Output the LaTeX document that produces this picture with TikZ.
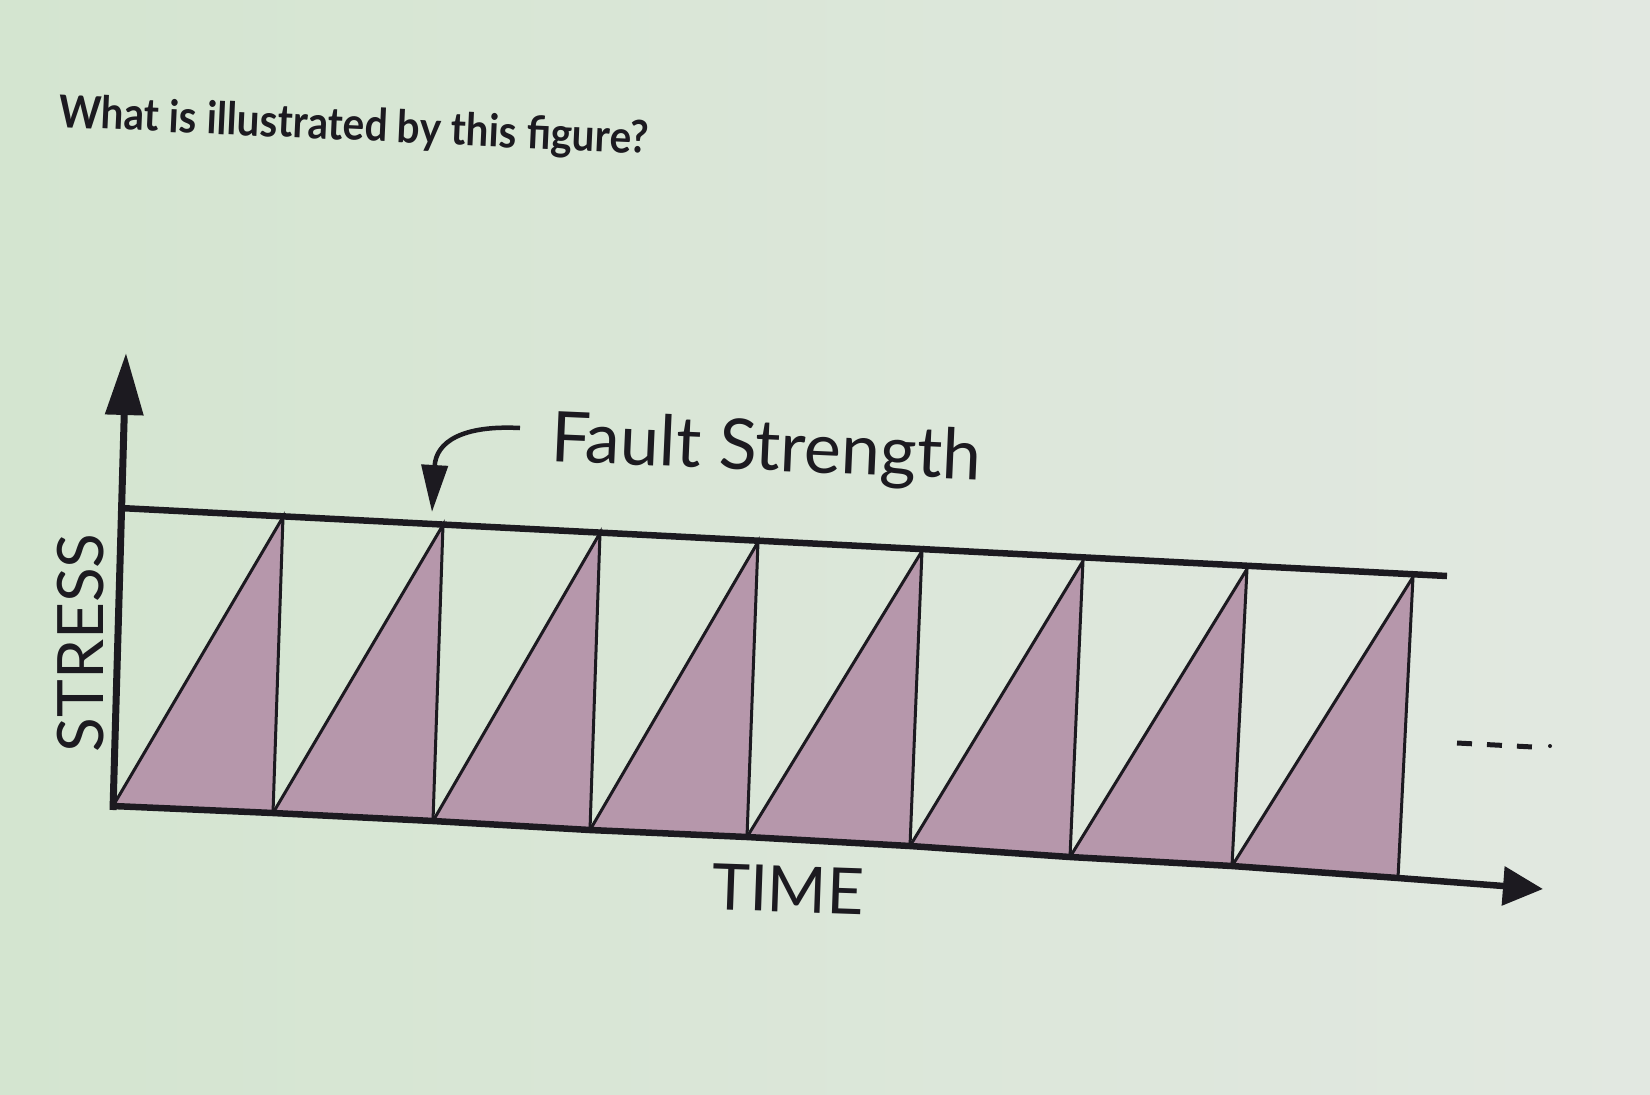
\documentclass[tikz,border=0pt]{standalone}
\usepackage{fontspec}
\setmainfont{Lato}
\usetikzlibrary{arrows.meta}
\definecolor{bgL}{RGB}{212,229,208}
\definecolor{bgM}{RGB}{234,239,221}
\definecolor{bgR}{RGB}{226,232,225}
\definecolor{mauve}{RGB}{182,151,171}
\definecolor{ink}{RGB}{28,26,32}
\tikzset{
  edge/.style={draw=ink, line width=3pt, line join=miter},
  rail/.style={draw=ink, line width=6.5pt},
  axisline/.style={draw=ink, line width=7pt},
  tri/.style={fill=mauve},
  lbl/.style={text=ink, inner sep=0pt},
}
\begin{document}
\begin{tikzpicture}[x=1pt,y=-1pt]
\shade[left color=bgL, middle color=bgM, right color=bgR] (0,0) rectangle (1650,1095);
\useasboundingbox (0,0) rectangle (1650,1095);

% key points
\coordinate (b0) at (113,806);
\coordinate (a1) at (283,517);  \coordinate (b1) at (273,813);
\coordinate (a2) at (443,525);  \coordinate (b2) at (433,821);
\coordinate (a3) at (600,533);  \coordinate (b3) at (590,830);
\coordinate (a4) at (758,542);  \coordinate (b4) at (747,837);
\coordinate (a5) at (922,551);  \coordinate (b5) at (910,846);
\coordinate (a6) at (1083,561); \coordinate (b6) at (1070,857);
\coordinate (a7) at (1247,569); \coordinate (b7) at (1232,866);
\coordinate (a8) at (1413,577); \coordinate (b8) at (1398,878);
\coordinate (xend) at (1543,889);
\coordinate (ybot) at (113,810);
\coordinate (ytop) at (126,353);
\coordinate (tl) at (120,508);
\coordinate (tr) at (1447,576);
\coordinate (fsS) at (520,428);
\coordinate (fsT) at (432,512);
\coordinate (d0) at (1457,743);
\coordinate (d1) at (1533,747);
\coordinate (dot) at (1550,746);

% shaded triangles
\foreach \p/\i in {0/1,1/2,2/3,3/4,4/5,5/6,6/7,7/8}{
  \fill[tri] (b\p) -- (a\i) -- (b\i) -- cycle;
  \draw[edge] (b\p) -- (a\i) -- (b\i);
}

% fault strength line
\draw[rail] (tl) -- (tr);

% time axis (bottom)
\draw[rail, -{Triangle[length=40pt,width=38pt]}] (b0) -- (b1) -- (b2) -- (b3) -- (b4) -- (b5) -- (b6) -- (b7) -- (b8) -- (xend);

% stress axis
\draw[axisline, -{Triangle[length=62pt,width=37pt]}] (ybot) -- (ytop);

% fault strength pointer
\draw[draw=ink, line width=4.5pt, -{Triangle[length=47pt,width=26pt]}] (fsS) .. controls (462,425) and (436,442) .. (fsT);

% continuation dashes
\draw[draw=ink, line width=5pt, dash pattern=on 15pt off 15pt] (d0) -- (d1);
\fill[ink] (dot) circle (2pt);

% labels
\node[lbl, anchor=base west, rotate=-2.6, font=\bfseries\fontsize{45}{52}\selectfont] (title) at (58,127) {\scalebox{0.9}[1]{What is illustrated by this figure?}};
\node[lbl, anchor=base west, rotate=-2.5, font=\fontsize{70}{80}\selectfont] (fs) at (550,461) {Fault Strength};
\node[lbl, rotate=-2, font=\fontsize{64}{72}\selectfont] (time) at (788,889) {TIME};
\node[lbl, rotate=90, font=\fontsize{64}{72}\selectfont] (stress) at (81,643) {STRESS};
\end{tikzpicture}
\end{document}
